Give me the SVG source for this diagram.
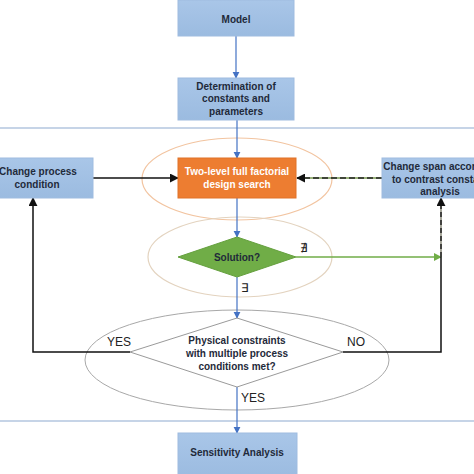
<svg xmlns="http://www.w3.org/2000/svg" width="474" height="474" viewBox="0 0 474 474">
<defs>
<linearGradient id="bg" x1="0" y1="0" x2="0" y2="1">
<stop offset="0" stop-color="#a9c6e8"/>
<stop offset="1" stop-color="#9bbbe0"/>
</linearGradient>
<marker id="ab" viewBox="0 0 10 10" refX="9" refY="5" markerWidth="6" markerHeight="6" orient="auto"><path d="M0,0L10,5L0,10z" fill="#4472c4"/></marker>
<marker id="ak" viewBox="0 0 10 10" refX="9" refY="5" markerWidth="6" markerHeight="6" orient="auto"><path d="M0,0L10,5L0,10z" fill="#111"/></marker>
<marker id="ag" viewBox="0 0 10 10" refX="9" refY="5" markerWidth="6" markerHeight="6" orient="auto"><path d="M0,0L10,5L0,10z" fill="#70ad47"/></marker>
</defs>
<style>
.box{fill:url(#bg);stroke:#9fbce0;stroke-width:1}
.t{font-family:"Liberation Sans",Arial,sans-serif;font-weight:bold;font-size:10px;fill:#1f2a3a;text-anchor:middle}
.w{fill:#fff}
.l{font-family:"Liberation Sans",Arial,sans-serif;font-size:12px;fill:#222;text-anchor:middle}
.blue{stroke:#4472c4;stroke-width:1.2;fill:none}
.blk{stroke:#111;stroke-width:1.5;fill:none}
.sep{stroke:#8ea9cf;stroke-width:1.2}
</style>
<rect width="474" height="474" fill="#fff"/>
<g id="separators">
<line class="sep" x1="0" y1="128" x2="474" y2="128"/>
<line class="sep" x1="0" y1="421" x2="474" y2="421"/>
</g>
<g id="ellipses" fill="none">
<ellipse cx="237" cy="179" rx="95" ry="41" stroke="#f2c4a0" stroke-width="1.2"/>
<ellipse cx="240" cy="257" rx="92" ry="40" stroke="#e3d3bf" stroke-width="1.2"/>
<ellipse cx="237" cy="360" rx="152" ry="50" stroke="#a8a8a8" stroke-width="1"/>
</g>
<g id="connectors">
<line class="blue" x1="236" y1="36" x2="236" y2="78" marker-end="url(#ab)"/>
<line class="blue" x1="237" y1="120" x2="237" y2="158" marker-end="url(#ab)"/>
<line class="blue" x1="237" y1="198" x2="237" y2="237" marker-end="url(#ab)"/>
<line class="blue" x1="237" y1="277" x2="237" y2="318" marker-end="url(#ab)"/>
<line class="blue" x1="237" y1="387" x2="237" y2="433" marker-end="url(#ab)"/>
<line class="blk" x1="93" y1="178" x2="178" y2="178" marker-end="url(#ak)"/>
<line x1="382" y1="178" x2="297" y2="178" stroke="#7a9a50" stroke-width="1.5"/>
<line x1="382" y1="178" x2="297" y2="178" stroke="#222" stroke-width="1.5" stroke-dasharray="6,3" marker-end="url(#ak)"/>
<line x1="296" y1="257" x2="441" y2="257" stroke="#70ad47" stroke-width="1.3" marker-end="url(#ag)"/>
<polyline class="blk" points="130,352 33,352 33,198" marker-end="url(#ak)"/>
<polyline class="blk" points="343,352 441,352 441,257"/>
<line x1="441" y1="257" x2="441" y2="198" stroke="#8a8a7a" stroke-width="1.5"/>
<line x1="441" y1="257" x2="441" y2="198" stroke="#222" stroke-width="1.5" stroke-dasharray="5,3" marker-end="url(#ak)"/>
<text class="l" x="119" y="346">YES</text>
<text class="l" x="356" y="346">NO</text>
<text class="l" x="253" y="402">YES</text>
<text class="l" x="245" y="292">∃</text>
<text class="l" x="304" y="252">∄</text>
</g>
<g id="model">
<rect class="box" x="178" y="0" width="116" height="36"/>
<text class="t" x="236" y="23">Model</text>
</g>
<g id="determination">
<rect class="box" x="178" y="78" width="116" height="42"/>
<text class="t" x="236" y="90">Determination of</text>
<text class="t" x="236" y="102">constants and</text>
<text class="t" x="236" y="115">parameters</text>
</g>
<g id="factorial">
<rect x="178" y="158" width="118" height="40" fill="#ed7d31" stroke="#e07328"/>
<text class="t w" x="237" y="175">Two-level full factorial</text>
<text class="t w" x="237" y="188">design search</text>
</g>
<g id="change-process">
<rect class="box" x="-10" y="158" width="103" height="40"/>
<text class="t" x="38" y="175">Change process</text>
<text class="t" x="37" y="188">condition</text>
</g>
<g id="change-span">
<rect class="box" x="382" y="158" width="100" height="40"/>
<text class="t" x="440" y="170">Change span according</text>
<text class="t" x="440" y="183">to contrast constant</text>
<text class="t" x="440" y="195">analysis</text>
</g>
<g id="solution">
<polygon points="178,257 237,237 296,257 237,277" fill="#70ad47" stroke="#65a03e"/>
<text class="t" x="237" y="261">Solution?</text>
</g>
<g id="physical">
<polygon points="130,352 237,318 343,352 237,387" fill="none" stroke="#9a9a9a" stroke-width="1"/>
<text class="t" x="237" y="344">Physical constraints</text>
<text class="t" x="237" y="357">with multiple process</text>
<text class="t" x="237" y="370">conditions met?</text>
</g>
<g id="sensitivity">
<rect class="box" x="178" y="433" width="119" height="45"/>
<text class="t" x="237" y="456">Sensitivity Analysis</text>
</g>
</svg>
